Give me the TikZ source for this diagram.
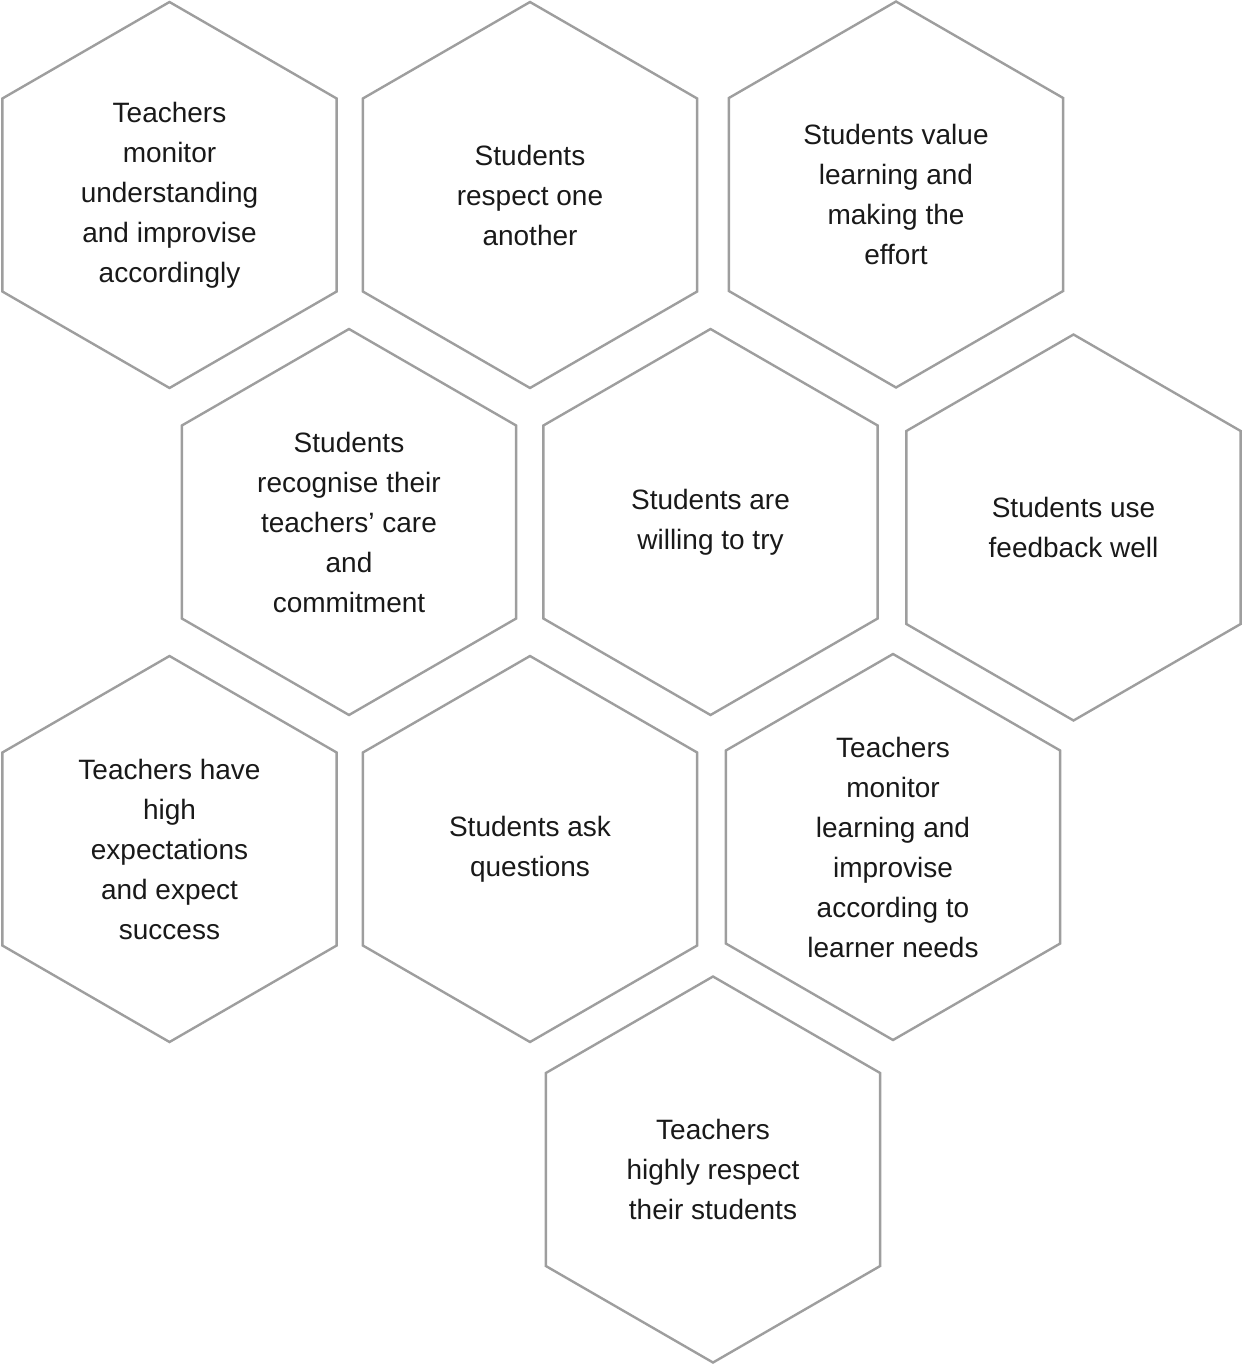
\documentclass[tikz,border=0pt]{standalone}
\usepackage{fontspec}
\setmainfont{Liberation Sans}
\tikzset{
  hexline/.style={draw=black!38, line width=2.4pt, line join=miter},
  hextext/.style={align=center, font=\fontsize{28}{40}\selectfont, text=black!90}
}
\newcommand\hexcell[4]{%
  \draw[hexline] (#2,-#3) ++(90:193) -- ++(-30:193) -- ++(-90:193) -- ++(-150:193) -- ++(150:193) -- ++(90:193) -- cycle;
  \node[hextext] (#1) at (#2,-#3) {#4};
}
\begin{document}
\begin{tikzpicture}[x=1pt,y=1pt]
\useasboundingbox (0,0) rectangle (1243,-1364);
\hexcell{a}{169.5}{195}{Teachers\\monitor\\understanding\\and improvise\\accordingly}
\hexcell{b}{530}{195}{Students\\respect one\\another}
\hexcell{c}{896}{194.5}{Students value\\learning and\\making the\\effort}
\hexcell{d}{349}{522}{Students\\recognise their\\teachers' care\\and\\commitment}
\hexcell{e}{710.5}{522}{Students are\\willing to try}
\hexcell{f}{1073.5}{527.5}{Students use\\feedback well}
\hexcell{g}{169.5}{849}{Teachers have\\high\\expectations\\and expect\\success}
\hexcell{h}{530}{849}{Students ask\\questions}
\hexcell{i}{893}{847}{Teachers\\monitor\\learning and\\improvise\\according to\\learner needs}
\hexcell{j}{713}{1169.5}{Teachers\\highly respect\\their students}
\end{tikzpicture}
\end{document}
